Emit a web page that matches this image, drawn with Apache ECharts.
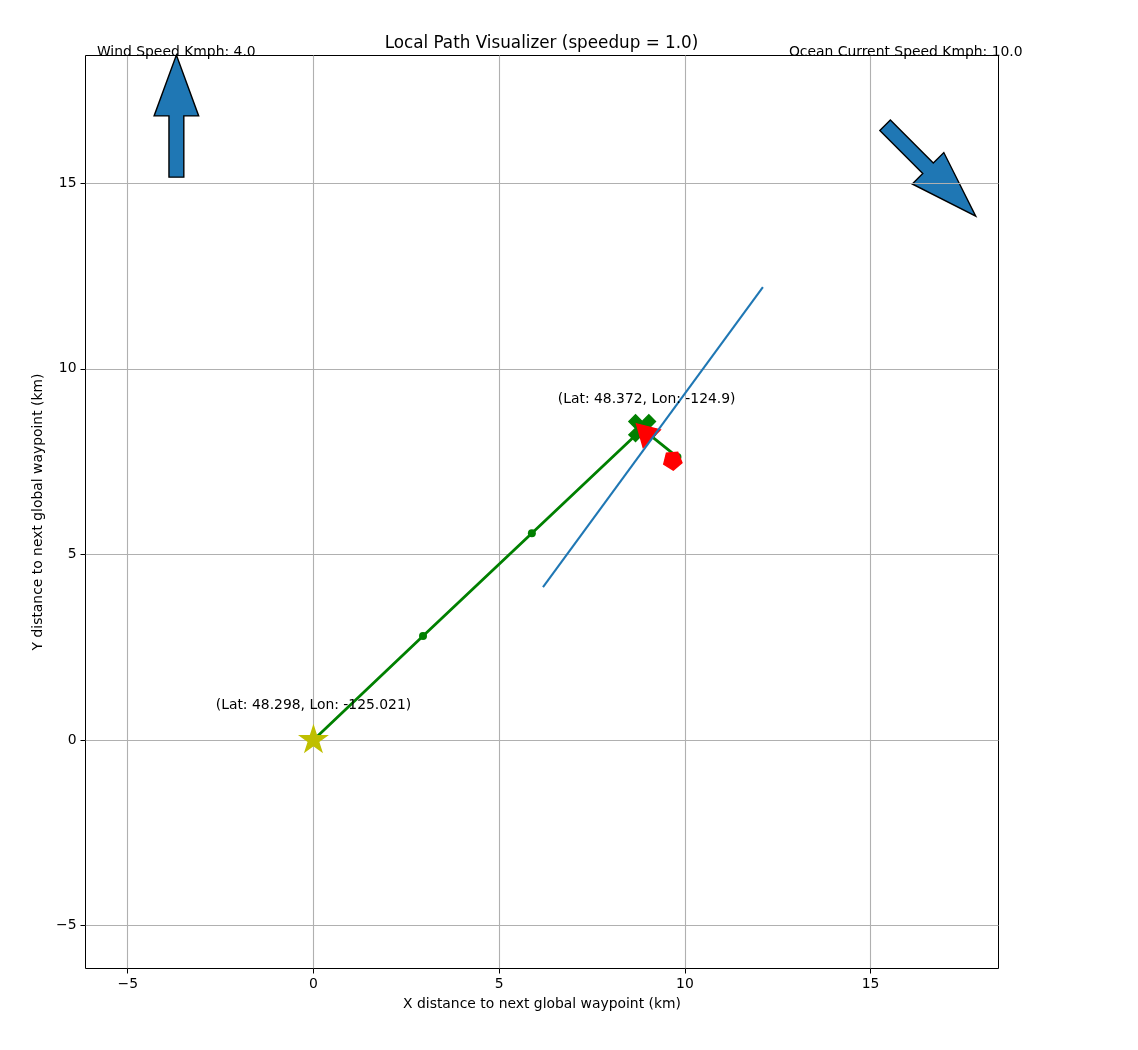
<!DOCTYPE html>
<html>
<head>
<meta charset="utf-8">
<title>Local Path Visualizer</title>
<script src="https://cdn.jsdelivr.net/npm/echarts@6/dist/echarts.min.js"></script>
<style>
html, body { margin: 0; padding: 0; background: #fff; overflow: hidden; }
#main { width: 1138px; height: 1050px; }
</style>
</head>
<body>
<div id="main"></div>
<script>
// axis limits and ticks
var xLimits = [-6.137, 18.443];
var yLimits = [-6.153, 18.437];
var tickValues = [-5, 0, 5, 10, 15];

// local path, start to end
var pathX = [0, 2.95, 5.88, 8.85, 9.8];
var pathY = [0, 2.80, 5.57, 8.38, 7.62];

// the blue segment
var lineX = [6.18, 12.1];
var lineY = [4.12, 12.2];

// start star, next waypoint X, boat triangle, end pentagon
var markerKinds = ['star', 'cross', 'triangle', 'pentagon'];
var markerX = [0, 8.85, 8.97, 9.67];
var markerY = [0, 8.40, 8.25, 7.53];

// wind and ocean current arrows
var arrowX = [-3.69, 15.39];
var arrowY = [15.16, 16.56];
var arrowDX = [0, 2.44];
var arrowDY = [3.29, -2.45];
var arrowHead = [1.64, 1.82];

// text inside the axes
var noteText = [
    'Wind Speed Kmph: 4.0',
    'Ocean Current Speed Kmph: 10.0',
    '(Lat: 48.298, Lon: -125.021)',
    '(Lat: 48.372, Lon: -124.9)'
];
var noteX = [-5.83, 12.8, 0, 8.97];
var noteY = [18.45, 18.45, 0.85, 9.09];
var noteAlign = ['left', 'left', 'center', 'center'];

var FONT = '"DejaVu Sans"';

function pairs(xs, ys) {
    return xs.map(function (x, i) { return [x, ys[i]]; });
}

function regular(cx, cy, r, n, start) {
    var pts = [];
    for (var i = 0; i < n; i++) {
        var a = (start + i * 360 / n) * Math.PI / 180;
        pts.push([cx + r * Math.cos(a), cy + r * Math.sin(a)]);
    }
    return pts;
}

function markerShape(kind, c) {
    if (kind === 'star') {
        var outer = regular(c[0], c[1], 14, 5, -90);
        var inner = regular(c[0], c[1], 14 * 0.382, 5, -54);
        var pts = [];
        outer.forEach(function (p, i) { pts.push(p); pts.push(inner[i]); });
        return { points: pts, color: '#bfbf00' };
    }
    if (kind === 'cross') {
        var u = 6.65;
        var cross = [[-1,-2],[0,-1],[1,-2],[2,-1],[1,0],[2,1],[1,2],[0,1],[-1,2],[-2,1],[-1,0],[-2,-1]];
        return {
            points: cross.map(function (p) { return [c[0] + p[0] * u, c[1] + p[1] * u]; }),
            color: '#008000'
        };
    }
    if (kind === 'triangle') {
        return { points: regular(c[0], c[1], 14.2, 3, -135.8), color: '#ff0000' };
    }
    return { points: regular(c[0], c[1], 9.6, 5, 86), color: '#ff0000' };
}

// same outline as a matplotlib arrow patch, worked out in data units
function arrowOutline(x, y, dx, dy, head) {
    var shaft = 0.2, wide = 0.6;
    var len = Math.sqrt(dx * dx + dy * dy);
    var ux = dx / len, uy = dy / len;
    var nx = -uy, ny = ux;
    var b = len - head;
    var local = [[0, shaft], [b, shaft], [b, wide], [len, 0], [b, -wide], [b, -shaft], [0, -shaft]];
    return local.map(function (p) {
        return [x + ux * p[0] + nx * p[1], y + uy * p[0] + ny * p[1]];
    });
}

var myChart = echarts.init(document.getElementById('main'), null, { renderer: 'canvas' });

var axisCommon = {
    type: 'value',
    nameLocation: 'middle',
    nameTextStyle: { fontFamily: FONT, fontSize: 13.9, color: '#000' },
    axisLine: { show: false, onZero: false },
    axisTick: { show: true, length: 5, customValues: tickValues, lineStyle: { color: '#000', width: 1 } },
    axisLabel: {
        fontFamily: FONT, fontSize: 13.9, color: '#000', margin: 9,
        customValues: tickValues,
        formatter: function (v) { return String(v).replace('-', '\u2212'); }
    },
    splitLine: { show: true, lineStyle: { color: '#b0b0b0', width: 1.1 } }
};

var option = {
    animation: false,
    backgroundColor: '#fff',
    title: {
        text: 'Local Path Visualizer (speedup = 1.0)',
        left: 541.5,
        top: 35,
        padding: 0,
        textAlign: 'center',
        textStyle: { fontFamily: FONT, fontSize: 16.8, fontWeight: 'normal', color: '#000' }
    },
    grid: {
        left: 85.5, top: 55.5, width: 913, height: 913,
        show: true, borderColor: '#000', borderWidth: 1, backgroundColor: 'transparent'
    },
    xAxis: Object.assign({}, axisCommon, {
        min: xLimits[0], max: xLimits[1],
        name: 'X distance to next global waypoint (km)', nameGap: 29
    }),
    yAxis: Object.assign({}, axisCommon, {
        min: yLimits[0], max: yLimits[1],
        name: 'Y distance to next global waypoint (km)', nameGap: 33
    }),
    series: [
        {
            // under the grid lines, as in the original
            type: 'custom',
            z: -1,
            coordinateSystem: 'cartesian2d',
            data: arrowX.map(function (x, i) { return [x, arrowY[i], arrowDX[i], arrowDY[i], arrowHead[i]]; }),
            encode: { x: 0, y: 1 },
            renderItem: function (params, api) {
                var outline = arrowOutline(api.value(0), api.value(1), api.value(2), api.value(3), api.value(4));
                return {
                    type: 'polygon',
                    shape: { points: outline.map(function (p) { return api.coord(p); }) },
                    style: { fill: '#1f77b4', stroke: '#000', lineWidth: 1.4, lineJoin: 'miter' }
                };
            }
        },
        {
            type: 'line',
            z: 3,
            data: pairs(pathX, pathY),
            symbol: 'circle',
            symbolSize: 8,
            showSymbol: true,
            itemStyle: { color: '#008000' },
            lineStyle: { color: '#008000', width: 2.8 }
        },
        {
            type: 'custom',
            z: 4,
            coordinateSystem: 'cartesian2d',
            data: pairs(markerX, markerY),
            encode: { x: 0, y: 1 },
            renderItem: function (params, api) {
                var c = api.coord([api.value(0), api.value(1)]);
                var m = markerShape(markerKinds[params.dataIndex], c);
                return {
                    type: 'polygon',
                    shape: { points: m.points },
                    style: { fill: m.color, stroke: m.color, lineWidth: 1.4, lineJoin: 'miter' }
                };
            }
        },
        {
            type: 'line',
            z: 5,
            data: pairs(lineX, lineY),
            showSymbol: false,
            lineStyle: { color: '#1f77b4', width: 2.1 }
        },
        {
            type: 'custom',
            z: 6,
            coordinateSystem: 'cartesian2d',
            data: pairs(noteX, noteY),
            encode: { x: 0, y: 1 },
            renderItem: function (params, api) {
                var c = api.coord([api.value(0), api.value(1)]);
                return {
                    type: 'text',
                    x: c[0],
                    y: c[1] + 4,
                    style: {
                        text: noteText[params.dataIndex],
                        fontFamily: FONT,
                        fontSize: 13.9,
                        fill: '#000',
                        align: noteAlign[params.dataIndex],
                        verticalAlign: 'bottom'
                    }
                };
            }
        }
    ]
};

myChart.setOption(option);
</script>
</body>
</html>
